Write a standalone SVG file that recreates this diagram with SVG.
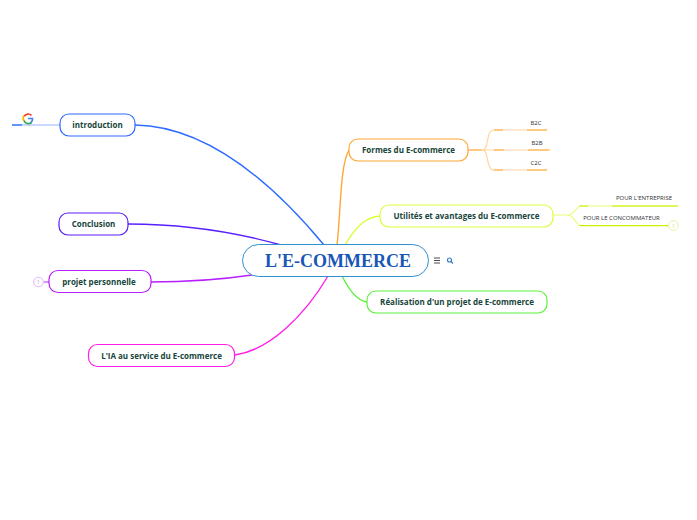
<svg xmlns="http://www.w3.org/2000/svg" width="697" height="520" viewBox="0 0 697 520">
<style>
text{font-family:"Open Sans","Noto Sans",sans-serif}
.n{fill:#fff;stroke-width:1.2}
.t{font-size:8px;font-weight:700;fill:#17453b;text-anchor:middle}
.s{font-size:6px;fill:#333;text-anchor:middle}
.c{fill:none;stroke-width:1.4}
.f{fill:none;stroke-width:1.2}
</style>
<g id="connectors">
<path class="c" stroke="#2e6bff" d="M135 125C205 126 270 180 324 245"/>
<path class="c" stroke="#5a1fff" d="M128 224C180 224 235 232 281 245"/>
<path class="c" stroke="#b61fff" d="M151 282C190 282 225 279 252 275"/>
<path class="c" stroke="#ff1fe8" d="M235 355C270 350 305 315 328 276"/>
<path class="c" stroke="#ffa733" d="M337 245C341 210 340 165 349 150"/>
<path class="c" stroke="#d8ff3a" d="M345 245C355 228 365 217 380 216"/>
<path class="c" stroke="#5cf03a" d="M342 276C350 292 358 301 367 302"/>
<path d="M12 125H60" fill="none" stroke="#b9ccff" stroke-width="1.300"/>
<path d="M12 125H22" fill="none" stroke="#2e6bff" stroke-width="1.300"/>
<path d="M44 282H49" fill="none" stroke="#b61fff" stroke-width="1"/>
<path class="f" stroke="#ffa733" d="M468 150H482"/>
<path class="f" stroke="#ffd6a0" d="M482 150C490 150 485 130 494 130H547M482 150H551M482 150C490 150 485 170 494 170H547"/>
<path class="f" stroke="#ffa733" d="M494 130H503M527 130H547M494 150H504M528 150H549M494 170H503M527 170H547"/>
<path class="f" stroke="#e3ff70" d="M553 215H568C575 215 575 206 582 206H678M568 215C575 215 575 226 582 226H669"/>
<path class="f" stroke="#c6f000" d="M579 206H588M612 206H678M579 225.500H669"/>
</g>
<g id="root"><rect x="242.500" y="244.500" width="186" height="32" rx="16" fill="#fff" stroke="#2f8fd0" stroke-width="1"/><text x="338" y="266.500" text-anchor="middle" style="font-family:'Liberation Serif',serif;font-size:18px;font-weight:700;fill:#1857b6">L'E-COMMERCE</text></g>
<g id="menu-icons"><path d="M434 258H440M434 260.500H440M434 263H440" stroke="#333" stroke-width="0.900" fill="none"/><circle cx="449.500" cy="260" r="2" fill="none" stroke="#3b7fc4" stroke-width="1.200"/><path d="M451 261.500L453 263.500" stroke="#3b7fc4" stroke-width="1.300"/></g>
<g id="introduction"><rect class="n" x="60" y="114" width="75" height="22" rx="9" stroke="#2e6bff"/><text class="t" x="97.500" y="128">introduction</text></g>
<g id="google-icon"><path d="M31.500 115.400A4.700 4.700 0 0 0 24 116.500" fill="none" stroke="#ea4335" stroke-width="1.700"/><path d="M24 115.500A4.700 4.700 0 0 0 24 121" fill="none" stroke="#fbbc05" stroke-width="1.700"/><path d="M24 120.500A4.700 4.700 0 0 0 31.500 122.500" fill="none" stroke="#34a853" stroke-width="1.700"/><path d="M28 118.500H32.500A4.700 4.700 0 0 1 31 122.500" fill="none" stroke="#4285f4" stroke-width="1.700"/></g>
<g id="conclusion"><rect class="n" x="59" y="213" width="69" height="22" rx="9" stroke="#5a1fff"/><text class="t" x="93.500" y="227">Conclusion</text></g>
<g id="projet"><rect class="n" x="49" y="270.500" width="102" height="22" rx="9" stroke="#b61fff"/><text class="t" x="99" y="285">projet personnelle</text><circle cx="38.500" cy="282" r="4.800" fill="#fff" stroke="#e3b3ff"/><text x="38.500" y="284" text-anchor="middle" style="font-size:5px;fill:#c58bf0">1</text></g>
<g id="ia"><rect class="n" x="88.500" y="344.500" width="146" height="22" rx="9" stroke="#ff1fe8"/><text class="t" x="161.500" y="359">L'IA au service du E-commerce</text></g>
<g id="formes"><rect class="n" x="349" y="139" width="119" height="22" rx="9" stroke="#ffa733"/><text class="t" x="408.500" y="153">Formes du E-commerce</text></g>
<g id="b2c"><text class="s" x="536" y="125">B2C</text></g>
<g id="b2b"><text class="s" x="537" y="145">B2B</text></g>
<g id="c2c"><text class="s" x="536" y="165">C2C</text></g>
<g id="utilites"><rect class="n" x="380" y="205" width="173" height="22" rx="9" stroke="#d8ff3a"/><text class="t" x="466.500" y="219">Utilités et avantages du E-commerce</text></g>
<g id="entreprise"><text class="s" x="644" y="200">POUR L'ENTREPRISE</text></g>
<g id="consommateur"><text class="s" x="621.500" y="220">POUR LE CONCOMMATEUR</text><circle cx="673.500" cy="225.500" r="4.800" fill="#fff" stroke="#e6f59a"/><text x="673.500" y="227.500" text-anchor="middle" style="font-size:5px;fill:#cfe06a">1</text></g>
<g id="realisation"><rect class="n" x="367" y="291" width="180" height="22" rx="9" stroke="#5cf03a"/><text class="t" x="457" y="305">Réalisation d'un projet de E-commerce</text></g>
</svg>
